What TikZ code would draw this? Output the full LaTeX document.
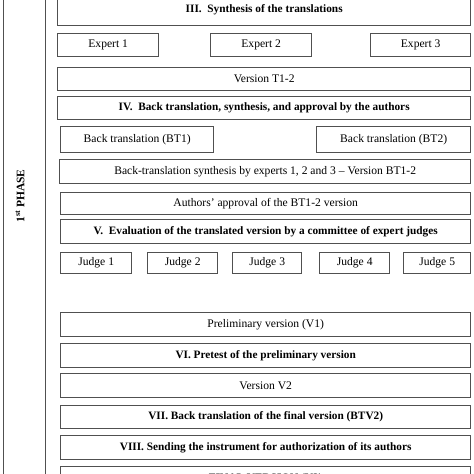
\documentclass[tikz,border=0pt]{standalone}
\usepackage{fontspec}
\setmainfont{Liberation Serif}
\tikzset{
  box/.style={draw={rgb,255:red,80;green,80;blue,80}, line width=1.4pt, fill=white,
    anchor=north west, inner sep=0pt, font=\fontsize{11.6}{13}\selectfont, text=black},
  hbox/.style={box, font=\fontsize{11.3}{13}\selectfont\bfseries},
  phase/.style={draw={rgb,255:red,80;green,80;blue,80}, line width=1.4pt, anchor=north west, inner sep=0pt},
}
\begin{document}
\begin{tikzpicture}[x=1pt,y=-1pt]
\useasboundingbox (0,0) rectangle (474,474);
\clip (0,0) rectangle (474,474);
\fill[white] (0,0) rectangle (474,474);
% phase column
\node[phase, minimum width=42pt, minimum height=520pt] (ph) at (3,-20) {};
\node[rotate=90, font=\fontsize{11.5}{13}\selectfont\bfseries] (phl) at (20,196) {1\textsuperscript{st} PHASE};
% boxes
\node[hbox, minimum width=413pt, minimum height=32pt] (s3) at (57,-7) {III.\ \ Synthesis of the translations};
\node[box, minimum width=101pt, minimum height=23pt] (e1) at (57,33) {Expert 1};
\node[box, minimum width=101pt, minimum height=23pt] (e2) at (210,33) {Expert 2};
\node[box, minimum width=100pt, minimum height=23pt] (e3) at (370,33) {Expert 3};
\node[box, minimum width=413pt, minimum height=23pt] (t12) at (57,67) {Version T1-2};
\node[hbox, minimum width=413pt, minimum height=23pt] (s4) at (57,96) {IV.\ \ Back translation, synthesis, and approval by the authors};
\node[box, minimum width=153pt, minimum height=26pt] (bt1) at (60,126) {Back translation (BT1)};
\node[box, minimum width=154pt, minimum height=26pt] (bt2) at (316,126) {Back translation (BT2)};
\node[box, minimum width=411pt, minimum height=24pt] (syn) at (59,159) {Back-translation synthesis by experts 1, 2 and 3 – Version BT1-2};
\node[box, minimum width=410pt, minimum height=22pt] (auth) at (60,192) {Authors’ approval of the BT1-2 version};
\node[hbox, minimum width=410pt, minimum height=24pt] (s5) at (60,219) {V.\ \ Evaluation of the translated version by a committee of expert judges};
\node[box, minimum width=71pt, minimum height=21pt] (j1) at (60,252) {Judge 1};
\node[box, minimum width=70pt, minimum height=21pt] (j2) at (147,252) {Judge 2};
\node[box, minimum width=69pt, minimum height=21pt] (j3) at (232,252) {Judge 3};
\node[box, minimum width=70pt, minimum height=21pt] (j4) at (319,252) {Judge 4};
\node[box, minimum width=67pt, minimum height=21pt] (j5) at (403,252) {Judge 5};
\node[box, minimum width=410pt, minimum height=24pt] (v1) at (60,312) {Preliminary version (V1)};
\node[hbox, minimum width=410pt, minimum height=24pt] (s6) at (60,343) {VI. Pretest of the preliminary version};
\node[box, minimum width=410pt, minimum height=24pt] (v2) at (60,373) {Version V2};
\node[hbox, minimum width=410pt, minimum height=23pt] (s7) at (60,405) {VII. Back translation of the final version (BTV2)};
\node[hbox, minimum width=410pt, minimum height=24pt] (s8) at (60,435) {VIII. Sending the instrument for authorization of its authors};
\node[hbox, minimum width=410pt, minimum height=24pt] (fin) at (60,466) {FINAL VERSION (V3)};
\end{tikzpicture}
\end{document}
